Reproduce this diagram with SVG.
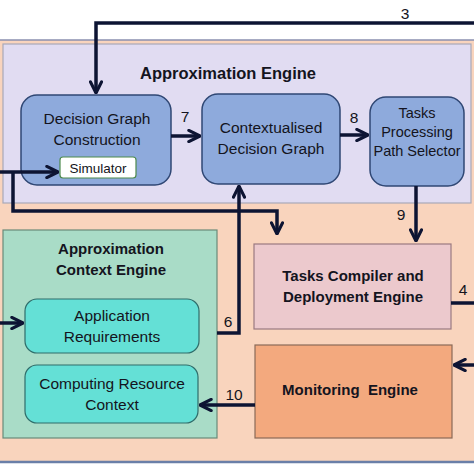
<svg xmlns="http://www.w3.org/2000/svg" width="474" height="474" viewBox="0 0 474 474">
<defs>
<marker id="ah" viewBox="0 0 10 10" refX="9" refY="5" markerWidth="4" markerHeight="4" orient="auto" markerUnits="strokeWidth">
<path d="M1,1 L9,5 L1,9" fill="none" stroke="#0d1433" stroke-width="2.2" stroke-linecap="round" stroke-linejoin="round"/>
</marker>
<style>
text{font-family:"Liberation Sans",Arial,sans-serif;fill:#141420;text-anchor:middle}
.t{font-size:15.5px}
.b{font-size:15px;font-weight:bold}
.n{font-size:14.5px}
.c{fill:none;stroke:#0d1433;stroke-width:3.5}
.blue{fill:#8eaadc;stroke:#2f4774;stroke-width:1.5}
.teal{fill:#64e0d6;stroke:#2f6d6a;stroke-width:1.2}
</style>
</defs>
<rect x="-5" y="40" width="490" height="422" fill="#f9d4bd" stroke="#8a90b0" stroke-width="1.5"/>
<line x1="0" y1="462" x2="474" y2="462" stroke="#6a7fa8" stroke-width="2.5"/>
<g id="approximation-engine">
<rect x="3" y="44" width="468" height="159" fill="#e1dcf2" stroke="#a8a8b8" stroke-width="1.2"/>
<text class="b" x="228" y="79" style="font-size:16.5px">Approximation Engine</text>
</g>
<g id="decision-graph-construction">
<rect class="blue" x="21" y="95" width="150" height="90" rx="16"/>
<text class="t" x="97" y="124">Decision Graph</text>
<text class="t" x="97" y="145">Construction</text>
</g>
<g id="simulator">
<rect x="60" y="157" width="76" height="21" rx="3" fill="#fff" stroke="#4d8a4d" stroke-width="1.2"/>
<text x="98" y="172.5" style="font-size:13.5px">Simulator</text>
</g>
<g id="contextualised-decision-graph">
<rect class="blue" x="202" y="94" width="138" height="90" rx="16"/>
<text class="t" x="271" y="133">Contextualised</text>
<text class="t" x="271" y="154">Decision Graph</text>
</g>
<g id="tasks-processing-path-selector">
<rect class="blue" x="370" y="97" width="94" height="89" rx="16"/>
<text class="n" x="417" y="118">Tasks</text>
<text class="n" x="417" y="137">Processing</text>
<text class="n" x="417" y="156">Path Selector</text>
</g>
<g id="approximation-context-engine">
<rect x="3" y="230" width="214" height="208" fill="#a9dcc7" stroke="#6a8a78" stroke-width="1.2"/>
<text class="b" x="111" y="254">Approximation</text>
<text class="b" x="111" y="275">Context Engine</text>
</g>
<g id="application-requirements">
<rect class="teal" x="25" y="299" width="174" height="54" rx="12"/>
<text class="t" x="112" y="321">Application</text>
<text class="t" x="112" y="342">Requirements</text>
</g>
<g id="computing-resource-context">
<rect class="teal" x="25" y="365" width="173" height="58" rx="12"/>
<text class="t" x="112" y="389">Computing Resource</text>
<text class="t" x="112" y="410">Context</text>
</g>
<g id="tasks-compiler">
<rect x="254" y="244" width="197" height="85" fill="#ecc9cd" stroke="#9a7a80" stroke-width="1.2"/>
<text class="b" x="353" y="281">Tasks Compiler and</text>
<text class="b" x="353" y="302">Deployment Engine</text>
</g>
<g id="monitoring-engine">
<rect x="255" y="345" width="197" height="93" fill="#f3a97e" stroke="#8a6a58" stroke-width="1.2"/>
<text class="b" x="350" y="395" xml:space="preserve">Monitoring  Engine</text>
</g>
<g id="connectors">
<path class="c" d="M474,23 H96 V93" marker-end="url(#ah)"/>
<path class="c" d="M171,136 H200" marker-end="url(#ah)"/>
<path class="c" d="M340,135 H368" marker-end="url(#ah)"/>
<path class="c" d="M416,186 V241" marker-end="url(#ah)"/>
<path class="c" d="M0,172 H58" marker-end="url(#ah)"/>
<path class="c" d="M13,172 V211 H277 V234" marker-end="url(#ah)"/>
<path class="c" d="M217,333 H239 V186" marker-end="url(#ah)"/>
<path class="c" d="M0,323 H23" marker-end="url(#ah)"/>
<path class="c" d="M255,405 H200" marker-end="url(#ah)"/>
<path class="c" d="M451,303 H474"/>
<path class="c" d="M474,365 H454" marker-end="url(#ah)"/>
<text class="t" x="405" y="19">3</text>
<text class="t" x="185" y="122">7</text>
<text class="t" x="354" y="123">8</text>
<text class="t" x="401" y="220">9</text>
<text class="t" x="228" y="327">6</text>
<text class="t" x="463" y="295">4</text>
<text class="t" x="234" y="400">10</text>
</g>
</svg>
